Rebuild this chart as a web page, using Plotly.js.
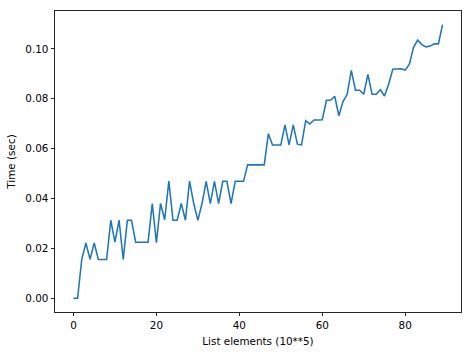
<!DOCTYPE html>
<html>
<head>
<meta charset="utf-8">
<script src="https://cdn.plot.ly/plotly-3.0.1.min.js"></script>
<style>html,body{margin:0;padding:0;background:#fff;}#chart{width:474px;height:353px;}</style>
</head>
<body>
<div id="chart"></div>
<script>
// List sizes (in units of 10**5 elements)
const listElements = Array.from({length: 90}, (_, i) => i);
const timeSec = [
  0.0000, 0.0000, 0.0156, 0.0222, 0.0156, 0.0222, 0.0156, 0.0156, 0.0156, 0.0313,
  0.0225, 0.0313, 0.0156, 0.0313, 0.0313, 0.0225, 0.0225, 0.0225, 0.0225, 0.0380,
  0.0223, 0.0380, 0.0315, 0.0470, 0.0313, 0.0313, 0.0380, 0.0313, 0.0470, 0.0380,
  0.0313, 0.0380, 0.0469, 0.0380, 0.0469, 0.0380, 0.0469, 0.0469, 0.0380, 0.0469,
  0.0470, 0.0469, 0.0535, 0.0535, 0.0535, 0.0535, 0.0535, 0.0660, 0.0615, 0.0615,
  0.0615, 0.0695, 0.0615, 0.0695, 0.0618, 0.0615, 0.0712, 0.0699, 0.0715, 0.0715,
  0.0716, 0.0794, 0.0794, 0.0810, 0.0732, 0.0789, 0.0818, 0.0914, 0.0834, 0.0834,
  0.0818, 0.0898, 0.0818, 0.0818, 0.0836, 0.0811, 0.0858, 0.0918, 0.0918, 0.0920,
  0.0915, 0.0939, 0.1006, 0.1035, 0.1017, 0.1008, 0.1011, 0.1020, 0.1020, 0.1097
];
const xTitle = "List elements (10**5)";
const yTitle = "Time (sec)";

const trace = {
  x: listElements,
  y: timeSec,
  type: "scatter",
  mode: "lines",
  line: {color: "#1f77b4", width: 1.55},
  hoverinfo: "skip"
};

const axisCommon = {
  showgrid: false,
  zeroline: false,
  showline: true,
  mirror: true,
  linecolor: "#000",
  linewidth: 0.85,
  ticks: "outside",
  ticklen: 3.6,
  tickwidth: 0.85,
  tickcolor: "#000",
  tickfont: {family: "DejaVu Sans", size: 10.4, color: "#000"}
};

const layout = {
  width: 474,
  height: 353,
  margin: {l: 55, r: 13, t: 11, b: 41},
  paper_bgcolor: "#fff",
  plot_bgcolor: "#fff",
  showlegend: false,
  font: {family: "DejaVu Sans", size: 10.4, color: "#000"},
  xaxis: Object.assign({}, axisCommon, {
    range: [-4.45, 93.45],
    tickvals: [0, 20, 40, 60, 80],
    ticktext: ["0", "20", "40", "60", "80"],
    title: {text: xTitle, font: {family: "DejaVu Sans", size: 10.4, color: "#000"}, standoff: 7}
  }),
  yaxis: Object.assign({}, axisCommon, {
    range: [-0.005485, 0.115185],
    tickvals: [0, 0.02, 0.04, 0.06, 0.08, 0.10],
    ticktext: ["0.00", "0.02", "0.04", "0.06", "0.08", "0.10"],
    title: {text: yTitle, font: {family: "DejaVu Sans", size: 10.4, color: "#000"}, standoff: 7}
  })
};

Plotly.newPlot("chart", [trace], layout, {displayModeBar: false, staticPlot: true});
</script>
</body>
</html>
